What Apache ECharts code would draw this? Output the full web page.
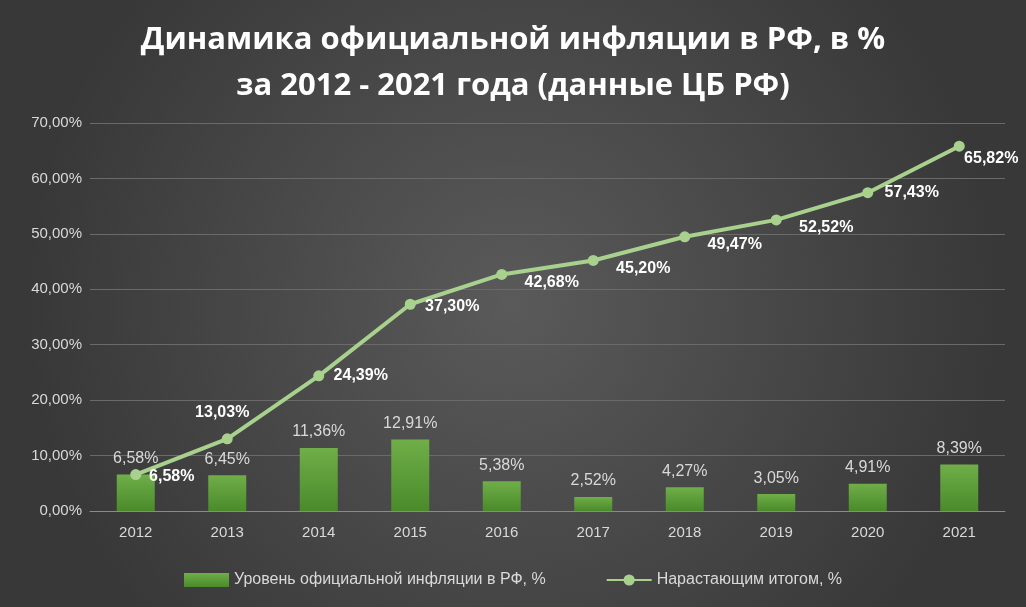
<!DOCTYPE html>
<html>
<head>
<meta charset="utf-8">
<script src="https://cdn.jsdelivr.net/npm/echarts@6/dist/echarts.min.js"></script>
<style>
html,body{margin:0;padding:0;}
#chart{width:1026px;height:607px;}
</style>
</head>
<body>
<div id="chart"></div>
<script>
var years = ['2012','2013','2014','2015','2016','2017','2018','2019','2020','2021'];
var yearly = [6.58, 6.45, 11.36, 12.91, 5.38, 2.52, 4.27, 3.05, 4.91, 8.39];
var cumulative = [6.58, 13.03, 24.39, 37.30, 42.68, 45.20, 49.47, 52.52, 57.43, 65.82];
// смещения подписей линии
var lineLabelOffsets = [[36,2],[-5,-26],[42,0],[42,2],[50,8],[50,8],[50,8],[50,8],[44,0],[32,12]];

function pct(v){ return v.toFixed(2).replace('.', ',') + '%'; }

var chart = echarts.init(document.getElementById('chart'));
chart.setOption({
    backgroundColor: {
        type: 'radial', x: 0.5, y: 0.5, r: 0.8,
        colorStops: [{offset: 0, color: '#5a5a5a'}, {offset: 1, color: '#383838'}]
    },
    title: {
        text: 'Динамика официальной инфляции в РФ, в %\nза 2012 - 2021 года (данные ЦБ РФ)',
        left: 'center', top: 12,
        textStyle: {color: '#ffffff', fontSize: 31, fontWeight: 'bold', fontFamily: 'Open Sans', lineHeight: 46}
    },
    grid: {left: 90, right: 21, top: 123, bottom: 96},
    legend: {
        bottom: 14, itemGap: 60,
        textStyle: {color: '#d9d9d9', fontSize: 16, fontFamily: 'Liberation Sans'},
        data: [
            {name: 'Уровень официальной инфляции в РФ, %', icon: 'rect', itemWidth: 45, itemHeight: 9},
            {name: 'Нарастающим итогом, %'}
        ],
        itemWidth: 45
    },
    xAxis: {
        type: 'category', data: years,
        axisLine: {lineStyle: {color: '#8a8a8a'}},
        axisTick: {show: false},
        axisLabel: {color: '#d9d9d9', fontSize: 15, fontFamily: 'Liberation Sans', margin: 14}
    },
    yAxis: {
        type: 'value', min: 0, max: 70, interval: 10,
        axisLabel: {color: '#d9d9d9', fontSize: 15, fontFamily: 'Liberation Sans', formatter: function(v){ return v.toFixed(2).replace('.', ',') + '%'; }},
        splitLine: {lineStyle: {color: '#6a6a6a'}}
    },
    series: [{
        name: 'Уровень официальной инфляции в РФ, %',
        type: 'bar', data: yearly, barWidth: 38,
        itemStyle: {color: {type: 'linear', x: 0, y: 0, x2: 0, y2: 1,
            colorStops: [{offset: 0, color: '#6fae48'}, {offset: 1, color: '#4a8a2a'}]}},
        label: {show: true, position: 'top', color: '#d9d9d9', fontSize: 16, fontFamily: 'Liberation Sans', distance: 8,
            formatter: function(p){ return pct(p.value); }}
    }, {
        name: 'Нарастающим итогом, %',
        type: 'line', data: cumulative.map(function(v, i){
            return {value: v, label: {offset: lineLabelOffsets[i]}};
        }),
        symbol: 'circle', symbolSize: 11,
        lineStyle: {color: '#a9d18e', width: 4},
        itemStyle: {color: '#a9d18e'},
        label: {show: true, position: 'inside', color: '#ffffff', fontSize: 16, fontWeight: 'bold', fontFamily: 'Liberation Sans',
            formatter: function(p){ return pct(p.value); }},
        z: 5
    }]
});
</script>
</body>
</html>
